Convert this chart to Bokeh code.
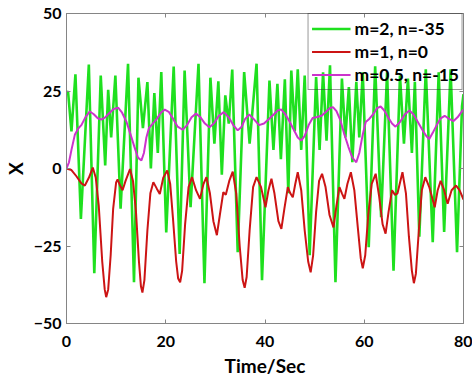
from bokeh.plotting import figure
from bokeh.models import (LinearAxis, Range1d, FixedTicker, Legend, LegendItem,
                          CustomJSTickFormatter)
from bokeh.embed import file_html
from bokeh.resources import INLINE

# ---------------- data ----------------
x_ticks = [0, 20, 40, 60, 80]
y_ticks = [-50, -25, 0, 25, 50]

green_label = "m=2, n=-35"
green_t = [0, 0.3, 1.0, 1.8, 2.9, 4.5, 5.6, 6.9, 7.8, 8.4, 9.0, 9.85, 10.9, 12.4,
           13.6, 14.5, 15.4, 16.3, 17.0, 17.7, 18.4, 19.1, 20.1, 21.6, 22.8, 23.8,
           25.0, 26.6, 27.8, 29.0, 29.8, 30.6, 31.3, 32.0, 32.7, 33.4, 34.5, 35.8,
           36.9, 38.3, 39.4, 40.9, 41.7, 42.5, 43.2, 44.0, 44.7, 45.3, 46.0, 46.6,
           47.3, 48.0, 49.0, 50.3, 51.0, 51.7, 52.4, 53.1, 54.2, 55.5, 56.2, 56.9,
           57.6, 58.4, 59.0, 59.7, 60.9, 62.2, 63.4, 64.6, 65.9, 67.2, 68.0, 68.8,
           69.6, 70.2, 71.1, 72.4, 73.8, 75.0, 76.1, 77.4, 78.7, 79.7, 80.0]
green_v = [24, 25, 12, 30.4, -16.3, 33.5, -33.8, 30, 1, 25.4, 10, 30, -13, 33.8,
           -36.7, 29.3, 13, 27.9, 0, 24.3, 5, 31.1, -20.6, 32.9, -27.6, 31.6,
           -12.5, 33.8, -37, 29.3, 8, 28.1, -2, 23.6, 14.5, 31.9, -27, 31.1,
           8, 33.8, -36, 28.4, 6, 27.3, 3, 28.8, -8, 31.6, 12, 32,
           6, 30, -28, 29.5, 6, 31, 9, 33.3, -36.7, 29, 10, 26.3,
           2, 28, 10, 31, -25.4, 33, -15.7, 31, -33, 30, 8, 29,
           5, 28, -22, 32, -23.8, 31, -20.5, 32, -27, 20, 24]

red_label = "m=1, n=0"
red_t = [0, 1, 2, 3, 3.7, 4.5, 5.3, 5.9, 6.5, 7.2, 7.7, 8.0, 8.4, 8.9, 9.4, 10.0,
         10.3, 10.8, 11.3, 11.9, 12.8, 13.4, 14.0, 14.6, 15.0, 15.3, 15.7, 16.3,
         16.9, 17.5, 18.2, 18.8, 19.5, 20.3, 20.9, 21.5, 22.1, 22.5, 22.9, 23.3,
         23.9, 24.6, 25.3, 26.1, 26.9, 27.6, 28.2, 28.9, 29.6, 30.3, 30.9, 31.6,
         32.1, 32.8, 33.5, 34.2, 34.9, 35.5, 35.9, 36.3, 36.9, 37.6, 38.3, 39.2,
         40.1, 40.7, 41.3, 41.9, 42.7, 43.3, 43.9, 44.6, 45.1, 45.6, 46.1, 46.6,
         47.3, 48.0, 48.7, 49.2, 49.7, 50.3, 50.9, 51.5, 52.2, 53.0, 53.8, 54.4,
         55.0, 55.5, 56.0, 56.6, 57.3, 58.0, 58.7, 59.3, 59.7, 60.2, 60.8, 61.5,
         62.3, 63.0, 63.7, 64.3, 64.9, 65.6, 66.2, 66.7, 67.7, 68.4, 69.0, 69.6,
         70.0, 70.4, 71.0, 71.6, 72.3, 73.1, 74.2, 74.8, 75.4, 76.1, 76.8, 77.6,
         78.5, 79.2, 80.0]
red_v = [0, -0.5, -2.5, -4.8, -5.5, -3, 0.3, -3, -12, -30, -39, -41.5, -39, -28, -13, -4.5,
         -3.5, -5.5, -7, -4, -0.2, -4, -14, -30, -38, -40, -36, -20,
         -8, -4.4, -6.5, -8.2, -3, -0.6, -5, -17, -30, -35.5, -36.7, -33,
         -18, -6, -2.8, -7, -9.8, -5, -2.8, -8, -17, -21.5, -15, -7.6,
         -8.5, -4, -1, -8, -25, -36, -38.5, -35, -20, -6, -2.8, -6,
         -12.5, -7, -3.3, -8, -17, -19.5, -13, -6, -8, -9.3, -5, -1.2,
         -7, -20, -30, -33.5, -28, -14, -4, -1.7, -6, -15, -19, -12,
         -6, -8, -9.8, -5, -1.2, -7, -19, -29, -32.2, -28, -15, -5,
         -1.7, -9, -18, -21, -14, -7, -8.5, -8, -1.2, -8, -22, -33,
         -37, -34, -20, -7, -2.8, -6, -12.5, -7, -4, -7, -11.4, -7,
         -5.5, -7, -10]

magenta_label = "m=0.5, n=-15"
magenta_t = [0, 0.5, 1.0, 1.7, 2.4, 3.0, 3.8, 4.7, 5.5, 6.3, 7.0, 7.8, 8.6, 9.5, 10.4,
             11.2, 12.1, 12.9, 13.7, 14.4, 15.1, 15.6, 16.1, 16.6, 17.3, 18.2, 19.0,
             19.8, 20.6, 21.5, 22.4, 23.4, 24.3, 25.2, 26.1, 27.0, 27.9, 28.8, 29.7,
             30.7, 31.7, 32.7, 33.6, 34.5, 35.3, 36.0, 36.8, 37.7, 38.8, 39.8, 40.8,
             41.8, 42.6, 43.3, 44.1, 45.0, 45.8, 46.6, 47.3, 48.0, 48.8, 49.6, 50.5,
             51.4, 52.3, 53.1, 53.7, 54.4, 55.2, 56.0, 56.8, 57.6, 58.4, 59.0, 59.7,
             60.3, 61.0, 61.8, 62.6, 63.3, 64.0, 64.8, 65.6, 66.3, 67.2, 68.2, 69.1,
             69.9, 70.8, 71.7, 72.5, 73.1, 73.8, 74.6, 75.4, 76.2, 77.1, 78.0, 78.8,
             79.5, 80.0]
magenta_v = [0, 2, 6, 11, 13, 14, 16.5, 18.4, 17.5, 16.2, 15.8, 16.5, 17.8, 19.2, 19.6,
             18, 15, 11, 6.9, 3.5, 2.6, 5, 10, 13, 14.3, 16, 18,
             19, 18.3, 16, 13.5, 12.5, 14, 16.5, 17.7, 16.5, 14.5, 13.3, 14.5,
             17, 18.2, 16.5, 14, 12.3, 13.5, 16, 17.4, 16, 14, 14.5, 16,
             17.5, 18.8, 19, 17.5, 15, 12.5, 10, 9, 10.5, 14, 16.3, 16.6,
             17, 18.3, 19.5, 19.8, 18.5, 15.5, 11, 7, 3.5, 2, 5, 11,
             15, 16, 17.5, 19.5, 20, 18.8, 16.5, 14.5, 13.5, 15, 17.5, 18.7,
             17.5, 15, 12.5, 10.5, 9.5, 11.5, 14, 16.2, 17, 16, 15.3, 16.5,
             18, 19]

# ---------------- styling ----------------
FONT = "Lato"
AXIS_GRAY = "#858585"
GREEN = "#1fe01f"
RED = "#cc1414"
MAGENTA = "#cc33cc"

p = figure(width=472, height=380,
           x_range=Range1d(0, 80), y_range=Range1d(-50, 50),
           output_backend="svg", toolbar_location=None,
           x_axis_label="Time/Sec", y_axis_label="X",
           min_border_left=65, min_border_right=9,
           min_border_top=13, min_border_bottom=57)
p.background_fill_color = "white"
p.border_fill_color = "white"
p.outline_line_color = AXIS_GRAY
p.outline_line_width = 1
p.xgrid.visible = False
p.ygrid.visible = False

r_g = p.line(green_t, green_v, line_color=GREEN, line_width=2.6)
r_r = p.line(red_t, red_v, line_color=RED, line_width=2.0)
r_m = p.line(magenta_t, magenta_v, line_color=MAGENTA, line_width=2.0)

def style_axis(ax, ticks):
    ax.ticker = FixedTicker(ticks=ticks)
    ax.axis_line_color = AXIS_GRAY
    ax.major_tick_line_color = AXIS_GRAY
    ax.major_tick_in = 4
    ax.major_tick_out = 0
    ax.minor_tick_line_color = None
    ax.major_label_text_font = FONT
    ax.major_label_text_font_style = "bold"
    ax.major_label_text_font_size = "16px"
    ax.major_label_text_color = "black"
    ax.axis_label_text_font = FONT
    ax.axis_label_text_font_style = "bold"
    ax.axis_label_text_font_size = "19px"
    ax.axis_label_text_color = "black"

style_axis(p.xaxis[0], x_ticks)
style_axis(p.yaxis[0], y_ticks)
p.xaxis[0].major_label_standoff = 12
p.xaxis[0].axis_label_standoff = 4
p.yaxis[0].major_label_standoff = 5
p.yaxis[0].axis_label_standoff = 4

blank = CustomJSTickFormatter(code="return '';")
top = LinearAxis(formatter=blank)
right = LinearAxis(formatter=blank)
for ax, ticks in ((top, x_ticks), (right, y_ticks)):
    style_axis(ax, ticks)
    ax.major_label_standoff = 0
    ax.major_label_text_font_size = "1px"
p.add_layout(top, "above")
p.add_layout(right, "right")

legend = Legend(items=[LegendItem(label=green_label, renderers=[r_g]),
                       LegendItem(label=red_label, renderers=[r_r]),
                       LegendItem(label=magenta_label, renderers=[r_m])],
                location="top_right", margin=0, padding=3, spacing=0,
                label_height=23, glyph_height=23, glyph_width=39,
                label_standoff=4,
                border_line_color="#333333", border_line_width=1,
                background_fill_alpha=0,
                label_text_font=FONT, label_text_font_style="bold",
                label_text_font_size="17.5px", label_text_color="black")
p.add_layout(legend)

open("out.html", "w").write(file_html(p, INLINE))
